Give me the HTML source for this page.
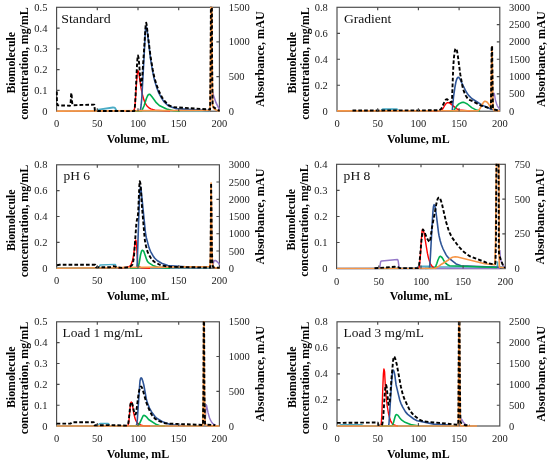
<!DOCTYPE html>
<html><head><meta charset="utf-8"><style>
html,body{margin:0;padding:0;background:#fff;width:550px;height:464px;overflow:hidden}
svg{display:block;will-change:transform}
path{fill:none;stroke-linejoin:round}
.fr{fill:none;stroke:#4a4a4a;stroke-width:1.15}
.t{font-family:"Liberation Serif",serif;font-size:10.5px;fill:#1a1a1a}
.b{font-family:"Liberation Serif",serif;font-size:12px;font-weight:bold;fill:#000}
.l{font-family:"Liberation Serif",serif;font-size:13.2px;fill:#111}
</style></head><body>
<svg width="550" height="464" viewBox="0 0 550 464">
<rect x="56.6" y="7.3" width="162.8" height="103.9" class="fr"/>
<clipPath id="c0"><rect x="55.6" y="6.8" width="164.3" height="105.4"/></clipPath>
<g clip-path="url(#c0)">
<path d="M96.0,111.1L97.5,110.3L98.5,109.6L112.9,107.5L114.6,107.6L115.1,108.1L116.5,110.7L117.5,111.1L210.0,111.2" stroke="#4bacc6" stroke-width="1.9"/>
<path d="M212.2,100.0L212.6,92.4L213.1,93.6L213.5,95.5L216.0,102.7L217.1,104.8L219.6,109.5" stroke="#9478c8" stroke-width="1.6"/>
<path d="M125.0,111.1L133.5,110.8L134.1,110.0L134.7,108.0L135.2,102.8L137.0,76.0L137.4,72.4L137.8,70.7L138.2,71.1L138.6,72.0L139.1,74.6L140.9,87.4L142.4,94.5L143.8,99.6L144.9,102.4L145.9,104.4L147.0,105.9L149.1,107.9L150.7,108.9L155.0,110.2L170.0,111.1" stroke="#ff0000" stroke-width="1.4"/>
<path d="M130.0,111.1L139.3,110.8L139.8,110.5L140.2,109.8L140.7,108.7L141.2,104.7L141.8,98.0L144.7,45.0L145.3,32.0L145.8,27.0L146.4,27.0L146.8,28.4L147.6,34.2L150.5,58.6L152.7,71.9L154.4,79.8L156.7,87.4L158.9,93.2L161.7,98.4L163.9,101.6L167.4,105.0L169.8,106.6L175.7,108.6L209.5,110.6" stroke="#2f5597" stroke-width="1.6"/>
<path d="M135.0,111.1L141.5,110.9L142.1,110.1L144.0,106.0L146.5,98.3L147.5,96.0L148.0,95.1L148.5,94.6L149.1,94.3L149.6,94.2L150.1,94.4L152.0,96.8L156.3,102.7L159.3,105.5L166.6,109.0L173.6,110.8L180.0,111.1" stroke="#00b050" stroke-width="1.6"/>
<path d="M56.6,111.1L209.8,110.4L210.2,101.7L210.5,80.0L210.9,5.0L211.9,5.0L212.1,60.0L212.6,105.0L213.1,106.8L213.6,108.1L214.0,108.8L215.6,109.8L217.9,110.8L219.6,111.0" stroke="#f79646" stroke-width="1.6"/>
<path d="M56.8,91.5L56.9,100.0L57.3,104.6L57.7,105.1L58.2,105.4L70.0,105.7L70.6,103.5L71.0,96.0L71.3,93.0L71.6,93.5L71.9,100.0L72.4,104.6L72.8,105.0L73.2,105.2L94.3,104.6L94.9,110.6L95.5,111.0L134.3,111.1L134.7,109.1L135.0,105.0L135.5,97.0L137.0,65.0L137.5,58.0L138.0,55.4L138.6,58.0L139.1,63.3L140.1,76.6L140.6,82.0L140.9,84.4L141.3,85.5L141.9,82.0L144.7,40.0L145.6,26.0L146.2,22.8L146.6,24.5L150.5,56.3L152.7,69.4L154.3,77.3L156.6,85.0L158.8,91.0L162.1,97.5L164.3,100.7L167.8,104.4L169.6,105.7L173.6,107.1L210.1,109.5L210.6,60.0L210.9,5.0L211.9,5.0L212.1,60.0L212.6,104.0L213.1,106.0L213.5,107.0L214.5,107.9L219.6,110.8" stroke="#000000" stroke-width="1.9" stroke-dasharray="3.7,2.1"/>
</g>
<text x="47.4" y="114.7" class="t" text-anchor="end">0</text>
<text x="47.4" y="93.9" class="t" text-anchor="end">0.1</text>
<text x="47.4" y="73.1" class="t" text-anchor="end">0.2</text>
<text x="47.4" y="52.4" class="t" text-anchor="end">0.3</text>
<text x="47.4" y="31.6" class="t" text-anchor="end">0.4</text>
<text x="47.4" y="10.8" class="t" text-anchor="end">0.5</text>
<text x="228.7" y="114.7" class="t">0</text>
<text x="228.7" y="80.1" class="t">500</text>
<text x="228.7" y="45.4" class="t">1000</text>
<text x="228.7" y="10.8" class="t">1500</text>
<text x="56.6" y="127.3" class="t" text-anchor="middle">0</text>
<text x="97.3" y="127.3" class="t" text-anchor="middle">50</text>
<text x="138.0" y="127.3" class="t" text-anchor="middle">100</text>
<text x="178.7" y="127.3" class="t" text-anchor="middle">150</text>
<text x="219.4" y="127.3" class="t" text-anchor="middle">200</text>
<path d="M56.6,90.4h3M56.6,69.6h3M56.6,48.9h3M56.6,28.1h3M219.4,76.6h-3M219.4,41.9h-3M97.3,7.3v3M97.3,111.2v-3M138.0,7.3v3M138.0,111.2v-3M178.7,7.3v3M178.7,111.2v-3" class="fr"/>
<text x="138.0" y="143.0" class="b" text-anchor="middle" textLength="62.6" lengthAdjust="spacingAndGlyphs">Volume, mL</text>
<text transform="translate(15.1,62.7) rotate(-90)" class="b" text-anchor="middle" textLength="61.6" lengthAdjust="spacingAndGlyphs">Biomolecule</text>
<text transform="translate(28.2,63.6) rotate(-90)" class="b" text-anchor="middle" textLength="112.5" lengthAdjust="spacingAndGlyphs">concentration, mg/mL</text>
<text transform="translate(264.3,59.2) rotate(-90)" class="b" text-anchor="middle" textLength="95.8" lengthAdjust="spacingAndGlyphs">Absorbance, mAU</text>
<text x="61.3" y="23.3" class="l" textLength="49.3" lengthAdjust="spacingAndGlyphs">Standard</text>
<rect x="337.0" y="7.3" width="162.8" height="103.9" class="fr"/>
<clipPath id="c1"><rect x="336.0" y="6.8" width="164.3" height="105.4"/></clipPath>
<g clip-path="url(#c1)">
<path d="M381.0,110.9L381.5,110.1L382.0,109.6L382.5,109.3L383.0,109.1L396.5,109.1L397.1,109.3L397.6,109.6L398.1,110.1L398.5,110.9" stroke="#4bacc6" stroke-width="1.6"/>
<path d="M492.6,100.0L493.2,94.5L493.6,93.6L494.0,93.2L494.5,94.5L495.4,99.9L496.8,104.6L497.2,105.6L498.2,107.2L499.8,109.0" stroke="#9478c8" stroke-width="1.4"/>
<path d="M430.0,110.9L440.8,110.6L441.4,110.4L443.0,108.5L445.0,105.0L446.0,103.6L446.5,103.2L447.6,102.7L448.1,102.6L449.5,103.0L450.1,103.4L456.9,108.9L459.0,109.9L470.0,110.9" stroke="#ff0000" stroke-width="1.4"/>
<path d="M440.0,110.9L452.0,110.7L452.3,110.0L453.5,97.0L454.9,87.4L455.9,82.0L456.4,80.2L456.8,79.0L457.7,77.5L458.2,77.3L458.8,77.5L459.3,78.0L459.9,79.0L466.3,92.0L468.4,95.1L471.7,98.5L482.3,105.2L491.4,109.3L498.7,110.5L499.8,110.5" stroke="#2f5597" stroke-width="1.6"/>
<path d="M450.0,110.9L453.5,110.5L454.0,110.2L456.9,105.9L458.9,103.9L461.7,102.5L462.9,102.2L464.0,102.4L467.3,104.0L471.7,107.6L476.5,110.1L479.4,110.8L480.0,110.9" stroke="#00b050" stroke-width="1.6"/>
<path d="M337.0,110.9L477.8,110.8L478.4,110.6L480.0,108.5L482.5,104.0L483.6,102.2L484.2,101.6L484.8,101.3L485.9,101.6L487.0,102.1L488.5,103.8L490.1,106.6L490.7,107.0L491.0,97.2L491.9,47.0L492.2,59.7L492.8,97.4L493.1,108.0L493.6,109.9L494.0,110.5L499.8,110.9" stroke="#f79646" stroke-width="1.6"/>
<path d="M352.5,110.5L438.5,110.3L439.5,110.0L441.0,109.0L441.5,108.4L445.0,100.7L445.5,100.0L446.4,99.3L446.8,99.2L447.4,99.4L449.0,100.8L449.9,101.9L450.4,102.2L451.5,102.5L452.0,100.6L453.0,73.5L453.5,63.3L454.0,57.2L454.5,53.0L454.9,50.6L455.3,49.2L455.9,48.5L456.2,48.8L456.6,49.5L457.0,50.9L457.8,55.7L460.3,74.4L462.4,86.0L462.9,88.2L464.0,91.7L465.7,95.4L467.3,98.0L468.3,99.1L470.1,100.1L473.0,101.4L480.8,105.5L490.3,108.4L490.9,108.5L491.7,45.8L492.1,46.0L492.9,108.0L493.4,108.9L493.9,109.4L497.7,110.4L499.8,110.5" stroke="#000000" stroke-width="1.9" stroke-dasharray="3.7,2.1"/>
</g>
<text x="327.8" y="114.7" class="t" text-anchor="end">0</text>
<text x="327.8" y="88.7" class="t" text-anchor="end">0.2</text>
<text x="327.8" y="62.8" class="t" text-anchor="end">0.4</text>
<text x="327.8" y="36.8" class="t" text-anchor="end">0.6</text>
<text x="327.8" y="10.8" class="t" text-anchor="end">0.8</text>
<text x="509.1" y="114.7" class="t">0</text>
<text x="509.1" y="97.4" class="t">500</text>
<text x="509.1" y="80.1" class="t">1000</text>
<text x="509.1" y="62.8" class="t">1500</text>
<text x="509.1" y="45.4" class="t">2000</text>
<text x="509.1" y="28.1" class="t">2500</text>
<text x="509.1" y="10.8" class="t">3000</text>
<text x="337.0" y="127.3" class="t" text-anchor="middle">0</text>
<text x="377.7" y="127.3" class="t" text-anchor="middle">50</text>
<text x="418.4" y="127.3" class="t" text-anchor="middle">100</text>
<text x="459.1" y="127.3" class="t" text-anchor="middle">150</text>
<text x="499.8" y="127.3" class="t" text-anchor="middle">200</text>
<path d="M337.0,85.2h3M337.0,59.2h3M337.0,33.3h3M499.8,93.9h-3M499.8,76.6h-3M499.8,59.2h-3M499.8,41.9h-3M499.8,24.6h-3M377.7,7.3v3M377.7,111.2v-3M418.4,7.3v3M418.4,111.2v-3M459.1,7.3v3M459.1,111.2v-3" class="fr"/>
<text x="418.4" y="143.0" class="b" text-anchor="middle" textLength="62.6" lengthAdjust="spacingAndGlyphs">Volume, mL</text>
<text transform="translate(295.5,62.7) rotate(-90)" class="b" text-anchor="middle" textLength="61.6" lengthAdjust="spacingAndGlyphs">Biomolecule</text>
<text transform="translate(308.6,63.6) rotate(-90)" class="b" text-anchor="middle" textLength="112.5" lengthAdjust="spacingAndGlyphs">concentration, mg/mL</text>
<text transform="translate(544.7,59.2) rotate(-90)" class="b" text-anchor="middle" textLength="95.8" lengthAdjust="spacingAndGlyphs">Absorbance, mAU</text>
<text x="343.9" y="23.3" class="l" textLength="47.5" lengthAdjust="spacingAndGlyphs">Gradient</text>
<rect x="56.6" y="164.8" width="162.8" height="103.4" class="fr"/>
<clipPath id="c2"><rect x="55.6" y="164.3" width="164.3" height="104.9"/></clipPath>
<g clip-path="url(#c2)">
<path d="M56.6,268.0L99.0,268.0L99.5,267.5L99.9,265.2L100.6,265.0L115.0,264.4L115.3,264.6L115.7,265.0L116.2,267.5L116.6,267.8L117.0,267.9L210.0,267.8" stroke="#4bacc6" stroke-width="1.4"/>
<path d="M212.8,266.0L213.4,262.7L213.9,261.0L215.0,260.6L215.5,260.5L215.9,260.7L218.5,263.0L219.1,263.9L219.6,265.0" stroke="#9478c8" stroke-width="1.6"/>
<path d="M118.0,268.1L127.1,267.2L128.9,266.6L130.0,266.0L130.5,265.5L131.0,264.6L132.0,262.1L132.5,260.5L133.0,258.3L134.0,252.0L135.0,243.0L135.3,241.0L135.7,240.0L136.1,240.9L136.4,243.0L137.6,260.9L137.9,264.8L138.4,265.9L138.9,266.6L139.5,267.0L141.6,267.8L150.0,268.2" stroke="#ff0000" stroke-width="1.4"/>
<path d="M130.0,268.2L136.8,268.0L137.2,263.5L139.2,205.0L139.6,195.3L140.1,189.0L140.6,187.0L141.0,188.7L141.9,197.7L145.3,231.3L145.8,235.0L146.4,238.0L149.0,247.6L150.5,251.3L153.1,255.9L154.8,258.2L157.1,260.5L161.6,263.3L167.9,265.6L200.0,267.8" stroke="#2f5597" stroke-width="1.6"/>
<path d="M130.0,268.2L137.9,268.0L138.3,267.1L139.2,263.0L140.5,255.0L141.6,250.9L142.2,250.2L142.6,250.3L143.5,251.0L144.0,251.9L146.6,259.4L147.1,260.7L147.6,261.6L148.8,262.8L152.8,265.4L158.2,267.2L170.0,268.2" stroke="#00b050" stroke-width="1.6"/>
<path d="M56.6,268.2L209.8,266.6L210.2,262.1L210.6,250.0L211.1,183.0L211.5,210.0L211.9,250.0L212.4,263.0L212.9,266.3L213.4,267.5L219.0,268.2L219.6,268.2" stroke="#f79646" stroke-width="1.6"/>
<path d="M57.0,265.2L59.5,264.8L95.3,264.8L96.0,267.3L110.0,267.2L111.2,266.9L112.9,266.3L113.5,266.2L114.7,266.4L117.0,267.3L122.0,267.9L128.1,267.2L130.2,266.5L131.3,265.8L131.9,265.3L132.5,264.5L132.9,263.2L133.8,258.0L134.3,252.3L136.3,224.0L136.7,221.3L137.0,219.5L137.5,218.3L137.8,215.9L138.2,212.0L139.3,186.3L139.7,181.2L140.1,182.1L140.5,184.0L140.9,189.0L141.8,204.5L144.4,235.5L144.9,240.3L145.5,244.0L146.6,248.6L147.6,251.9L148.8,254.5L150.5,257.5L152.8,260.5L154.6,262.0L160.9,265.4L170.0,266.8L210.3,267.6L210.6,250.0L211.1,183.0L211.5,210.0L211.9,250.0L212.4,263.0L212.8,266.1L213.2,267.3L219.6,267.8" stroke="#000000" stroke-width="1.9" stroke-dasharray="3.7,2.1"/>
</g>
<text x="47.4" y="271.7" class="t" text-anchor="end">0</text>
<text x="47.4" y="245.8" class="t" text-anchor="end">0.2</text>
<text x="47.4" y="220.0" class="t" text-anchor="end">0.4</text>
<text x="47.4" y="194.1" class="t" text-anchor="end">0.6</text>
<text x="47.4" y="168.3" class="t" text-anchor="end">0.8</text>
<text x="228.7" y="271.7" class="t">0</text>
<text x="228.7" y="254.5" class="t">500</text>
<text x="228.7" y="237.2" class="t">1000</text>
<text x="228.7" y="220.0" class="t">1500</text>
<text x="228.7" y="202.8" class="t">2000</text>
<text x="228.7" y="185.5" class="t">2500</text>
<text x="228.7" y="168.3" class="t">3000</text>
<text x="56.6" y="284.3" class="t" text-anchor="middle">0</text>
<text x="97.3" y="284.3" class="t" text-anchor="middle">50</text>
<text x="138.0" y="284.3" class="t" text-anchor="middle">100</text>
<text x="178.7" y="284.3" class="t" text-anchor="middle">150</text>
<text x="219.4" y="284.3" class="t" text-anchor="middle">200</text>
<path d="M56.6,242.3h3M56.6,216.5h3M56.6,190.6h3M219.4,251.0h-3M219.4,233.7h-3M219.4,216.5h-3M219.4,199.3h-3M219.4,182.0h-3M97.3,164.8v3M97.3,268.2v-3M138.0,164.8v3M138.0,268.2v-3M178.7,164.8v3M178.7,268.2v-3" class="fr"/>
<text x="138.0" y="300.0" class="b" text-anchor="middle" textLength="62.6" lengthAdjust="spacingAndGlyphs">Volume, mL</text>
<text transform="translate(15.1,220.2) rotate(-90)" class="b" text-anchor="middle" textLength="61.6" lengthAdjust="spacingAndGlyphs">Biomolecule</text>
<text transform="translate(28.2,221.1) rotate(-90)" class="b" text-anchor="middle" textLength="112.5" lengthAdjust="spacingAndGlyphs">concentration, mg/mL</text>
<text transform="translate(264.3,216.5) rotate(-90)" class="b" text-anchor="middle" textLength="95.8" lengthAdjust="spacingAndGlyphs">Absorbance, mAU</text>
<text x="63.4" y="180.3" class="l" textLength="26.6" lengthAdjust="spacingAndGlyphs">pH 6</text>
<rect x="336.6" y="164.3" width="168.7" height="104.3" class="fr"/>
<clipPath id="c3"><rect x="335.6" y="163.8" width="170.2" height="105.8"/></clipPath>
<g clip-path="url(#c3)">
<path d="M337.0,268.5L416.0,268.4L416.6,268.1L417.8,266.8L418.4,266.4L429.7,266.2L430.1,266.4L430.6,266.8L431.0,267.0L497.3,267.0L497.5,262.0L497.7,267.0L505.3,267.6" stroke="#4bacc6" stroke-width="1.6"/>
<path d="M337.0,268.5L379.7,268.4L380.1,265.0L380.6,262.0L381.1,261.2L381.7,260.9L397.4,259.5L397.8,259.9L398.2,261.0L399.2,268.4L499.8,268.6" stroke="#9478c8" stroke-width="1.5"/>
<path d="M499.8,250.0L500.3,256.0L500.6,258.7L501.0,260.5L501.5,262.1L502.5,264.2L504.1,266.5L504.7,267.1L505.3,267.5" stroke="#9478c8" stroke-width="1.4"/>
<path d="M417.5,268.5L418.5,268.3L419.0,267.4L419.5,265.5L420.1,259.2L421.7,235.0L422.1,231.3L422.5,229.5L423.0,230.0L423.5,231.0L424.1,233.1L427.4,253.2L428.5,258.1L429.9,262.6L430.8,264.5L431.9,266.1L433.0,267.2L434.8,268.2L435.4,268.4L436.0,268.5" stroke="#ff0000" stroke-width="1.4"/>
<path d="M420.0,268.5L429.3,268.3L429.8,265.5L430.2,260.0L432.4,220.0L432.9,212.2L433.4,207.0L433.8,205.4L434.1,204.7L434.6,205.3L435.0,206.5L435.6,209.2L436.5,216.4L438.5,232.6L439.1,236.0L440.2,240.8L441.3,244.5L443.1,249.0L446.0,254.6L447.1,256.3L448.2,257.6L456.1,263.9L461.1,265.7L505.3,267.5" stroke="#2f5597" stroke-width="1.6"/>
<path d="M425.0,268.5L434.5,268.3L435.0,267.9L435.5,267.0L436.9,263.2L437.9,260.2L439.2,257.2L439.7,256.6L440.1,256.3L440.6,256.4L442.0,257.5L442.5,258.2L444.1,261.1L445.9,263.4L448.0,265.1L449.6,265.8L497.0,267.5" stroke="#00b050" stroke-width="1.6"/>
<path d="M337.0,268.5L434.5,268.3L435.7,268.1L438.6,266.4L441.5,264.2L448.0,260.3L450.4,258.4L452.5,257.3L455.2,256.8L457.5,257.0L484.8,263.7L494.8,264.7L495.1,258.6L495.5,245.0L496.2,180.0L496.6,160.0L498.8,160.0L499.1,200.0L499.2,260.0L499.4,267.2L505.3,267.6" stroke="#f79646" stroke-width="1.6"/>
<path d="M374.5,268.3L394.8,266.8L398.0,267.2L399.5,268.0L400.0,268.1L418.0,268.1L418.5,267.2L419.0,264.9L419.5,262.0L419.9,258.3L421.4,241.0L422.4,231.4L422.9,229.5L423.3,229.8L424.6,232.5L427.0,238.2L428.0,240.0L428.9,241.2L429.4,241.6L429.9,241.8L430.4,239.3L432.0,227.3L435.1,211.0L436.3,204.1L437.3,200.0L437.8,198.7L438.2,198.0L438.8,197.6L439.3,197.4L439.9,198.1L441.0,200.8L442.0,204.1L446.0,221.6L448.4,229.5L449.6,232.7L452.0,237.5L458.6,246.5L464.0,252.0L469.4,256.0L487.1,262.9L493.4,264.3L494.5,264.4L495.0,264.0L495.5,262.5L496.0,240.0L496.3,180.0L496.5,160.0L498.5,160.0L498.7,200.0L498.8,250.0L499.1,254.5L500.0,257.7L502.6,264.4L503.5,266.0L504.4,267.1L504.9,267.5L505.4,267.8" stroke="#000000" stroke-width="1.9" stroke-dasharray="3.7,2.1"/>
</g>
<text x="327.4" y="272.1" class="t" text-anchor="end">0</text>
<text x="327.4" y="246.0" class="t" text-anchor="end">0.1</text>
<text x="327.4" y="220.0" class="t" text-anchor="end">0.2</text>
<text x="327.4" y="193.9" class="t" text-anchor="end">0.3</text>
<text x="327.4" y="167.8" class="t" text-anchor="end">0.4</text>
<text x="514.6" y="272.1" class="t">0</text>
<text x="514.6" y="237.3" class="t">250</text>
<text x="514.6" y="202.6" class="t">500</text>
<text x="514.6" y="167.8" class="t">750</text>
<text x="336.6" y="284.7" class="t" text-anchor="middle">0</text>
<text x="378.8" y="284.7" class="t" text-anchor="middle">50</text>
<text x="421.0" y="284.7" class="t" text-anchor="middle">100</text>
<text x="463.1" y="284.7" class="t" text-anchor="middle">150</text>
<text x="505.3" y="284.7" class="t" text-anchor="middle">200</text>
<path d="M336.6,242.5h3M336.6,216.5h3M336.6,190.4h3M505.3,233.8h-3M505.3,199.1h-3M378.8,164.3v3M378.8,268.6v-3M421.0,164.3v3M421.0,268.6v-3M463.1,164.3v3M463.1,268.6v-3" class="fr"/>
<text x="421.0" y="300.4" class="b" text-anchor="middle" textLength="62.6" lengthAdjust="spacingAndGlyphs">Volume, mL</text>
<text transform="translate(295.1,219.7) rotate(-90)" class="b" text-anchor="middle" textLength="61.6" lengthAdjust="spacingAndGlyphs">Biomolecule</text>
<text transform="translate(308.2,220.6) rotate(-90)" class="b" text-anchor="middle" textLength="112.5" lengthAdjust="spacingAndGlyphs">concentration, mg/mL</text>
<text transform="translate(543.8,216.5) rotate(-90)" class="b" text-anchor="middle" textLength="95.8" lengthAdjust="spacingAndGlyphs">Absorbance, mAU</text>
<text x="343.6" y="180.1" class="l" textLength="26.8" lengthAdjust="spacingAndGlyphs">pH 8</text>
<rect x="56.6" y="321.8" width="162.8" height="104.2" class="fr"/>
<clipPath id="c4"><rect x="55.6" y="321.3" width="164.3" height="105.7"/></clipPath>
<g clip-path="url(#c4)">
<path d="M56.6,425.9L97.0,425.9L97.9,425.7L98.4,425.4L99.3,423.9L99.8,423.6L100.2,423.5L108.3,423.5L108.7,423.8L109.7,425.7L111.0,425.9L203.0,425.7" stroke="#4bacc6" stroke-width="1.4"/>
<path d="M205.3,420.0L205.8,410.0L206.3,404.8L206.7,405.8L208.0,412.5L209.4,417.5L210.5,420.2L211.5,422.0L212.5,423.3L216.0,425.5" stroke="#9478c8" stroke-width="1.4"/>
<path d="M126.5,426.0L127.5,425.8L128.1,425.0L128.7,423.3L129.1,418.9L130.1,407.8L130.5,404.0L130.8,402.7L131.2,402.1L131.6,402.4L132.0,403.0L132.5,405.2L133.5,412.0L134.9,418.1L135.9,420.7L136.5,421.7L137.6,423.1L138.6,424.0L141.4,425.3L143.0,425.7L150.0,426.0" stroke="#ff0000" stroke-width="1.4"/>
<path d="M130.0,426.0L136.3,425.8L136.8,423.9L137.3,420.0L139.7,384.9L140.0,381.0L140.6,378.3L141.1,377.9L141.6,378.1L142.0,378.7L142.9,381.4L143.9,385.5L146.2,398.5L147.1,402.1L149.5,408.1L151.6,411.9L155.0,416.5L156.7,418.2L163.3,422.1L170.9,424.8L185.0,425.8" stroke="#2f5597" stroke-width="1.6"/>
<path d="M130.0,426.0L138.2,425.8L138.7,425.3L142.5,417.1L142.9,416.2L143.4,415.6L143.9,415.4L144.4,415.5L145.8,416.3L146.4,416.8L148.6,419.5L156.5,424.6L159.4,425.6L165.0,426.0" stroke="#00b050" stroke-width="1.6"/>
<path d="M56.6,426.0L202.8,426.0L203.4,390.0L203.7,318.0L204.1,318.0L204.4,390.0L205.0,424.0L205.5,424.7L206.0,425.1L208.8,425.9L219.4,426.0" stroke="#f79646" stroke-width="1.6"/>
<path d="M56.6,423.6L70.5,423.6L71.0,423.3L71.5,422.6L72.0,422.3L93.8,422.2L94.5,425.3L111.1,425.1L127.0,425.6L127.6,424.9L128.2,423.3L128.8,419.9L130.3,405.0L130.8,403.0L131.2,402.1L131.6,402.4L132.0,403.0L132.5,404.5L134.4,413.5L134.8,414.5L135.3,414.4L135.8,414.0L136.3,411.8L138.4,394.9L138.9,392.0L139.3,390.0L139.9,388.3L140.4,386.9L141.0,386.4L141.4,386.7L142.3,388.5L142.8,390.0L146.2,402.1L148.3,407.7L151.4,414.3L152.4,415.8L154.7,418.4L157.6,420.5L165.2,423.4L203.0,425.0L203.4,390.0L203.7,318.0L204.1,318.0L204.4,390.0L205.0,423.5L205.5,424.3L206.0,424.6L215.3,425.1" stroke="#000000" stroke-width="1.9" stroke-dasharray="3.7,2.1"/>
</g>
<text x="47.4" y="429.5" class="t" text-anchor="end">0</text>
<text x="47.4" y="408.7" class="t" text-anchor="end">0.1</text>
<text x="47.4" y="387.8" class="t" text-anchor="end">0.2</text>
<text x="47.4" y="367.0" class="t" text-anchor="end">0.3</text>
<text x="47.4" y="346.1" class="t" text-anchor="end">0.4</text>
<text x="47.4" y="325.3" class="t" text-anchor="end">0.5</text>
<text x="228.7" y="429.5" class="t">0</text>
<text x="228.7" y="394.8" class="t">500</text>
<text x="228.7" y="360.0" class="t">1000</text>
<text x="228.7" y="325.3" class="t">1500</text>
<text x="56.6" y="442.1" class="t" text-anchor="middle">0</text>
<text x="97.3" y="442.1" class="t" text-anchor="middle">50</text>
<text x="138.0" y="442.1" class="t" text-anchor="middle">100</text>
<text x="178.7" y="442.1" class="t" text-anchor="middle">150</text>
<text x="219.4" y="442.1" class="t" text-anchor="middle">200</text>
<path d="M56.6,405.2h3M56.6,384.3h3M56.6,363.5h3M56.6,342.6h3M219.4,391.3h-3M219.4,356.5h-3M97.3,321.8v3M97.3,426.0v-3M138.0,321.8v3M138.0,426.0v-3M178.7,321.8v3M178.7,426.0v-3" class="fr"/>
<text x="138.0" y="457.8" class="b" text-anchor="middle" textLength="62.6" lengthAdjust="spacingAndGlyphs">Volume, mL</text>
<text transform="translate(15.1,377.2) rotate(-90)" class="b" text-anchor="middle" textLength="61.6" lengthAdjust="spacingAndGlyphs">Biomolecule</text>
<text transform="translate(28.2,378.1) rotate(-90)" class="b" text-anchor="middle" textLength="112.5" lengthAdjust="spacingAndGlyphs">concentration, mg/mL</text>
<text transform="translate(264.3,373.9) rotate(-90)" class="b" text-anchor="middle" textLength="95.8" lengthAdjust="spacingAndGlyphs">Absorbance, mAU</text>
<text x="62.6" y="337.3" class="l" textLength="80.4" lengthAdjust="spacingAndGlyphs">Load 1 mg/mL</text>
<rect x="337.0" y="321.8" width="162.8" height="104.2" class="fr"/>
<clipPath id="c5"><rect x="336.0" y="321.3" width="164.3" height="105.7"/></clipPath>
<g clip-path="url(#c5)">
<path d="M337.0,425.9L339.5,425.7L340.8,424.9L361.5,424.8L362.0,425.0L363.0,425.7L363.5,425.9L458.0,425.9" stroke="#4bacc6" stroke-width="1.8"/>
<path d="M460.3,424.0L460.8,419.5L461.4,419.0L461.9,419.7L463.4,422.2L464.4,423.4L467.0,425.5" stroke="#9478c8" stroke-width="1.4"/>
<path d="M379.5,426.0L380.5,425.8L380.9,424.9L381.3,422.8L381.8,415.8L383.0,383.0L383.4,373.8L383.9,369.0L384.2,369.9L384.6,372.0L385.5,389.1L386.1,396.0L387.2,406.0L388.5,413.5L389.4,417.2L390.4,420.2L390.9,421.5L392.0,423.2L393.0,424.3L394.0,425.0L396.9,425.9L398.0,426.0" stroke="#ff0000" stroke-width="1.4"/>
<path d="M380.0,426.0L388.7,425.8L389.1,422.0L391.6,382.0L392.4,373.0L392.9,370.1L393.2,370.2L393.6,370.5L394.2,372.1L394.8,375.0L396.1,384.9L399.7,399.9L400.9,403.3L402.7,407.2L405.5,411.9L407.7,414.4L413.8,419.0L417.2,420.7L433.8,424.1L450.0,425.0" stroke="#2f5597" stroke-width="1.6"/>
<path d="M380.0,426.0L391.9,425.8L392.4,425.2L393.5,422.5L395.0,417.0L395.6,415.4L396.1,414.6L397.5,415.0L398.0,415.4L400.0,418.3L401.8,420.2L405.0,422.3L411.8,424.9L419.4,426.0L420.0,426.0" stroke="#00b050" stroke-width="1.6"/>
<path d="M337.0,426.0L458.4,426.0L459.0,318.0L459.4,318.0L459.8,380.0L460.3,425.5L460.9,425.8L462.0,426.0L477.0,426.0" stroke="#f79646" stroke-width="1.6"/>
<path d="M337.0,422.9L377.7,422.5L378.5,425.0L381.0,425.3L381.5,425.1L381.9,424.7L382.4,423.9L382.9,420.6L383.4,415.0L384.9,391.6L385.4,387.0L385.7,385.6L386.0,384.9L386.4,385.9L386.8,388.0L388.2,402.4L388.7,404.9L389.1,404.0L389.6,402.0L390.1,397.9L391.7,376.0L393.1,360.6L393.5,358.0L394.0,356.4L394.4,356.8L394.8,357.5L395.3,358.8L396.8,364.6L400.9,386.7L402.8,394.6L404.4,399.0L408.9,408.5L411.8,413.0L414.7,416.1L419.8,419.9L423.6,421.4L458.3,424.8L458.9,318.0L459.5,318.0L459.9,380.0L460.2,408.3L460.5,422.0L461.0,422.7L461.5,423.0L462.5,423.5L464.8,425.0L465.3,425.2L468.7,425.2L469.8,425.0" stroke="#000000" stroke-width="1.9" stroke-dasharray="3.7,2.1"/>
</g>
<text x="327.8" y="429.5" class="t" text-anchor="end">0</text>
<text x="327.8" y="403.4" class="t" text-anchor="end">0.2</text>
<text x="327.8" y="377.4" class="t" text-anchor="end">0.4</text>
<text x="327.8" y="351.4" class="t" text-anchor="end">0.6</text>
<text x="327.8" y="325.3" class="t" text-anchor="end">0.8</text>
<text x="509.1" y="429.5" class="t">0</text>
<text x="509.1" y="408.7" class="t">500</text>
<text x="509.1" y="387.8" class="t">1000</text>
<text x="509.1" y="367.0" class="t">1500</text>
<text x="509.1" y="346.1" class="t">2000</text>
<text x="509.1" y="325.3" class="t">2500</text>
<text x="337.0" y="442.1" class="t" text-anchor="middle">0</text>
<text x="377.7" y="442.1" class="t" text-anchor="middle">50</text>
<text x="418.4" y="442.1" class="t" text-anchor="middle">100</text>
<text x="459.1" y="442.1" class="t" text-anchor="middle">150</text>
<text x="499.8" y="442.1" class="t" text-anchor="middle">200</text>
<path d="M337.0,399.9h3M337.0,373.9h3M337.0,347.9h3M499.8,405.2h-3M499.8,384.3h-3M499.8,363.5h-3M499.8,342.6h-3M377.7,321.8v3M377.7,426.0v-3M418.4,321.8v3M418.4,426.0v-3M459.1,321.8v3M459.1,426.0v-3" class="fr"/>
<text x="418.4" y="457.8" class="b" text-anchor="middle" textLength="62.6" lengthAdjust="spacingAndGlyphs">Volume, mL</text>
<text transform="translate(295.5,377.2) rotate(-90)" class="b" text-anchor="middle" textLength="61.6" lengthAdjust="spacingAndGlyphs">Biomolecule</text>
<text transform="translate(308.6,378.1) rotate(-90)" class="b" text-anchor="middle" textLength="112.5" lengthAdjust="spacingAndGlyphs">concentration, mg/mL</text>
<text transform="translate(544.7,373.9) rotate(-90)" class="b" text-anchor="middle" textLength="95.8" lengthAdjust="spacingAndGlyphs">Absorbance, mAU</text>
<text x="343.6" y="337.3" class="l" textLength="80.4" lengthAdjust="spacingAndGlyphs">Load 3 mg/mL</text>
</svg>
</body></html>
